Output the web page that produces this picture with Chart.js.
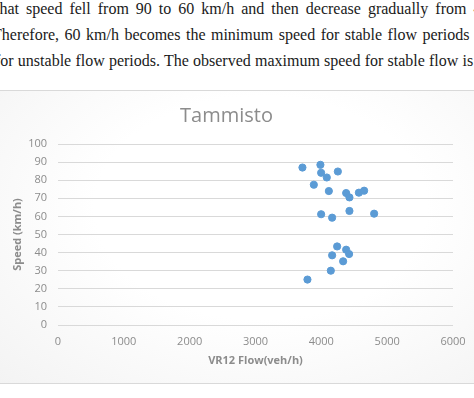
<!DOCTYPE html>
<html>
<head>
<meta charset="utf-8">
<script src="https://cdn.jsdelivr.net/npm/chart.js@4"></script>
<style>
  html, body { margin: 0; padding: 0; background: #fff; }
  body { width: 474px; height: 398px; overflow: hidden; position: relative; }
  .line {
    position: absolute;
    white-space: nowrap;
    font-family: "Liberation Serif", "DejaVu Serif", serif;
    font-size: 16px;
    color: #1a1a1a;
  }
  #box {
    position: absolute;
    left: 0; top: 90px; width: 474px; height: 292px;
    border-top: 1px solid #d9d9d9;
    border-bottom: 1px solid #d9d9d9;
    background: radial-gradient(ellipse at 55% 40%, #ffffff 45%, #f3f3f3 100%);
  }
  #chart { position: absolute; left: 0; top: 0; }
</style>
</head>
<body>
<div class="line" style="left:-5px; top:0px; word-spacing:3px;">that speed fell from 90 to 60 km/h and then decrease gradually from 40</div>
<div class="line" style="left:-8px; top:26px; word-spacing:1.5px;">Therefore, 60 km/h becomes the minimum speed for stable flow periods and</div>
<div class="line" style="left:-5px; top:52px; word-spacing:0.2px;">for unstable flow periods. The observed maximum speed for stable flow is</div>

<div id="box"><canvas id="chart" width="474" height="292"></canvas></div>

<script>
document.addEventListener("DOMContentLoaded", function () {
  const chartTitle = "Tammisto";
  const xTitle = "VR12 Flow(veh/h)";
  const yTitle = "Speed (km/h)";

  const flow = [3713, 3986, 3997, 4251, 4083, 3886, 4114, 4377, 4427, 4570, 4650,
    4427, 3997, 4164, 4802, 4240, 4377, 4164, 4422, 4331, 4144, 3789];
  const speed = [87.0, 88.5, 84.1, 84.8, 81.5, 77.5, 74.0, 72.9, 70.5, 73.1, 74.2,
    63.0, 61.2, 59.3, 61.5, 43.4, 41.6, 38.5, 39.2, 35.2, 30.0, 25.1];

  const xTicks = [0, 1000, 2000, 3000, 4000, 5000, 6000];
  const yTicks = [0, 10, 20, 30, 40, 50, 60, 70, 80, 90, 100];

  const points = flow.map((f, i) => ({ x: f, y: speed[i] }));
  const grey = "#8c8c8c";

  const ctx = document.getElementById("chart").getContext("2d");
  new Chart(ctx, {
    type: "scatter",
    data: {
      datasets: [
        {
          data: points,
          backgroundColor: "#5b9bd5",
          borderColor: "#5b9bd5",
          pointRadius: 3.6,
          pointHoverRadius: 3.6,
        },
      ],
    },
    options: {
      responsive: false,
      animation: false,
      layout: { padding: { left: 0, right: 21, top: 0, bottom: 8 } },
      plugins: {
        legend: { display: false },
        tooltip: { enabled: false },
        title: {
          display: true,
          text: chartTitle,
          color: grey,
          font: { family: "Open Sans", size: 20, weight: "normal" },
          padding: { top: 13, bottom: 16 },
        },
      },
      scales: {
        x: {
          type: "linear",
          min: xTicks[0],
          max: xTicks[xTicks.length - 1],
          afterBuildTicks: (s) => { s.ticks = xTicks.map((v) => ({ value: v })); },
          afterFit: (s) => { s.height = 50; },
          grid: { display: false },
          border: { display: false },
          ticks: {
            color: grey,
            font: { family: "Open Sans", size: 11 },
            padding: 2,
            maxRotation: 0,
            callback: (v) => String(v),
          },
          title: {
            display: true,
            text: xTitle,
            color: grey,
            font: { family: "Open Sans", size: 11, weight: "bold" },
            padding: { top: 0, bottom: 8 },
          },
        },
        y: {
          min: yTicks[0],
          max: yTicks[yTicks.length - 1],
          afterBuildTicks: (s) => { s.ticks = yTicks.map((v) => ({ value: v })); },
          afterFit: (s) => { s.width = 58; },
          grid: { color: "#d9d9d9", lineWidth: 1, drawTicks: false },
          border: { display: false },
          ticks: {
            color: grey,
            font: { family: "Open Sans", size: 11 },
            padding: 11,
            callback: (v) => String(v),
          },
          title: {
            display: true,
            text: yTitle,
            color: grey,
            font: { family: "Open Sans", size: 11, weight: "bold" },
            padding: { top: 11, bottom: 0 },
          },
        },
      },
    },
  });
});
</script>
</body>
</html>
